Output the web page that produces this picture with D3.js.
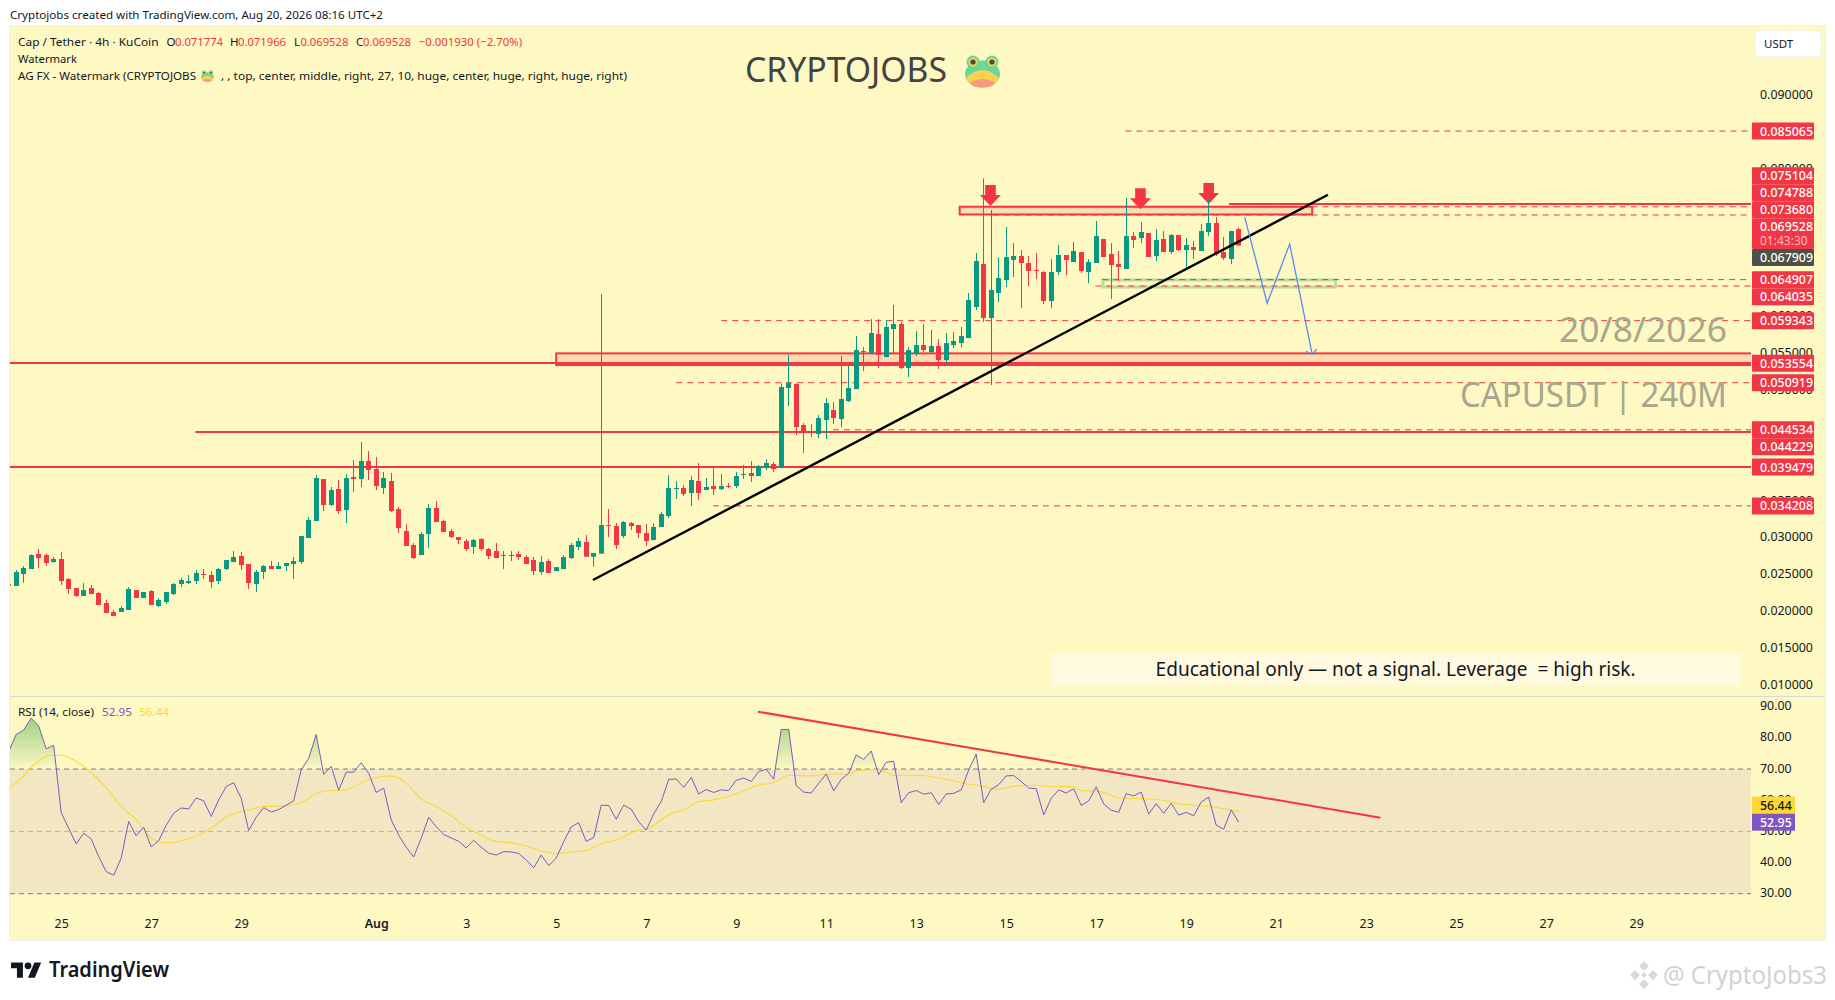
<!DOCTYPE html>
<html>
<head>
<meta charset="utf-8">
<title>CAPUSDT 240M</title>
<script src="https://cdn.jsdelivr.net/npm/d3@7"></script>
<style>
  html, body { margin: 0; padding: 0; background: #fff; }
  svg { display: block; font-family: "Noto Sans", sans-serif; }
</style>
</head>
<body>
<svg id="chart" width="1835" height="1000"></svg>
<script>
// 4h candles, oldest first. Bar 7 is the first candle of Jul 25.
const opens = [
  0.02365,0.02334,0.02496,0.02564,0.02768,0.02754,0.02659,0.02700,0.02429,0.02306,
  0.02198,0.02306,0.02239,0.02103,0.01981,0.01981,0.02008,0.02279,0.02171,0.02266,
  0.02062,0.02116,0.02225,0.02361,0.02374,0.02401,0.02496,0.02483,0.02401,0.02564,
  0.02659,0.02741,0.02632,0.02361,0.02523,0.02605,0.02564,0.02605,0.02632,0.02659,
  0.02985,0.03216,0.03785,0.03433,0.03650,0.03365,0.03813,0.03785,0.04030,0.03921,
  0.03663,0.03758,0.03378,0.03080,0.02890,0.02754,0.03039,0.03392,0.03216,0.03080,
  0.02998,0.02944,0.02863,0.02971,0.02836,0.02808,0.02741,0.02741,0.02768,0.02727,
  0.02686,0.02523,0.02673,0.02537,0.02564,0.02713,0.02863,0.02930,0.02731,0.02772,
  0.03161,0.03147,0.03012,0.03188,0.03161,0.03052,0.02957,0.03134,0.03283,0.03649,
  0.03663,0.03595,0.03758,0.03636,0.03690,0.03649,0.03690,0.03690,0.03839,0.03867,
  0.03826,0.03934,0.03989,0.03934,0.05020,0.05074,0.04518,0.04432,0.04396,0.04586,
  0.04721,0.04599,0.04843,0.05006,0.05522,0.05495,0.05753,0.05440,0.05820,0.05888,
  0.05291,0.05495,0.05603,0.05508,0.05590,0.05400,0.05603,0.05630,0.05698,0.06119,
  0.06703,0.05970,0.06309,0.06485,0.06757,0.06811,0.06716,0.06621,0.06594,0.06200,
  0.06594,0.06825,0.06730,0.06865,0.06594,0.06716,0.07042,0.06838,0.06703,0.06635,
  0.07082,0.07055,0.07123,0.06811,0.07042,0.06865,0.07096,0.06892,0.06933,0.06879,
  0.07137,0.07259,0.06865,0.06770,0.071774
];
const highs = [
  0.02365,0.02551,0.02605,0.02763,0.02836,0.02777,0.02727,0.02795,0.02442,0.02306,
  0.02374,0.02347,0.02252,0.02144,0.02008,0.02062,0.02320,0.02279,0.02252,0.02279,
  0.02171,0.02252,0.02374,0.02442,0.02483,0.02551,0.02564,0.02537,0.02578,0.02686,
  0.02808,0.02795,0.02632,0.02551,0.02618,0.02673,0.02659,0.02646,0.02727,0.03012,
  0.03270,0.03840,0.03785,0.03677,0.03772,0.03853,0.04043,0.04287,0.04165,0.04084,
  0.03880,0.03867,0.03406,0.03175,0.02917,0.03066,0.03446,0.03487,0.03229,0.03107,
  0.02998,0.02971,0.02971,0.02985,0.02849,0.02917,0.02808,0.02808,0.02808,0.02754,
  0.02727,0.02741,0.02700,0.02591,0.02754,0.02917,0.02985,0.03025,0.02781,0.06295,
  0.03378,0.03188,0.03215,0.03202,0.03161,0.03174,0.03188,0.03337,0.03839,0.03758,
  0.03704,0.03826,0.04002,0.03799,0.03948,0.03853,0.03731,0.03880,0.03975,0.04029,
  0.03975,0.04056,0.04016,0.05083,0.05468,0.05088,0.04545,0.04531,0.04653,0.04884,
  0.04830,0.05454,0.05332,0.05725,0.05576,0.05956,0.05956,0.05943,0.06146,0.05915,
  0.05576,0.05793,0.05888,0.05807,0.05685,0.05766,0.05780,0.05848,0.06309,0.06852,
  0.07865,0.07435,0.06793,0.07205,0.06987,0.06892,0.06811,0.06852,0.06608,0.06770,
  0.06960,0.06825,0.07001,0.06865,0.06770,0.07286,0.07042,0.06987,0.06879,0.07598,
  0.07137,0.07272,0.07123,0.07177,0.07150,0.07110,0.07096,0.07055,0.07015,0.07245,
  0.07571,0.07340,0.07069,0.07150,0.071966
];
const lows = [
  0.02338,0.02334,0.02379,0.02564,0.02578,0.02605,0.02650,0.02347,0.02225,0.02184,
  0.02198,0.02225,0.02076,0.01967,0.01926,0.01981,0.02008,0.02171,0.02171,0.02076,
  0.02049,0.02089,0.02211,0.02320,0.02361,0.02361,0.02429,0.02306,0.02361,0.02551,
  0.02659,0.02551,0.02293,0.02252,0.02429,0.02564,0.02564,0.02537,0.02429,0.02632,
  0.02985,0.03216,0.03351,0.03419,0.03311,0.03188,0.03609,0.03677,0.03772,0.03636,
  0.03582,0.03338,0.03053,0.02876,0.02700,0.02754,0.02849,0.03202,0.03066,0.02985,
  0.02903,0.02808,0.02768,0.02808,0.02700,0.02713,0.02564,0.02673,0.02686,0.02632,
  0.02483,0.02483,0.02510,0.02537,0.02564,0.02700,0.02822,0.02731,0.02596,0.02772,
  0.02998,0.02835,0.02984,0.03093,0.02984,0.02876,0.02957,0.03134,0.03256,0.03514,
  0.03554,0.03419,0.03500,0.03636,0.03568,0.03636,0.03663,0.03663,0.03785,0.03744,
  0.03826,0.03907,0.03880,0.03934,0.04776,0.04382,0.04138,0.04355,0.04341,0.04328,
  0.04531,0.04491,0.04830,0.05006,0.05251,0.05495,0.05291,0.05440,0.05495,0.05278,
  0.05169,0.05454,0.05508,0.05495,0.05278,0.05359,0.05563,0.05576,0.05698,0.06078,
  0.05916,0.05061,0.06187,0.06390,0.06526,0.06105,0.06404,0.06499,0.06160,0.06105,
  0.06553,0.06553,0.06730,0.06580,0.06445,0.06716,0.06798,0.06228,0.06472,0.06635,
  0.06920,0.06987,0.06798,0.06743,0.06865,0.06838,0.06879,0.06635,0.06770,0.06879,
  0.07082,0.06811,0.06757,0.06702,0.069528
];
const closes = [
  0.02338,0.02523,0.02578,0.02754,0.02713,0.02646,0.02700,0.02401,0.02293,0.02198,
  0.02279,0.02225,0.02076,0.01967,0.01926,0.02035,0.02293,0.02171,0.02252,0.02076,
  0.02144,0.02252,0.02361,0.02415,0.02401,0.02510,0.02483,0.02388,0.02564,0.02686,
  0.02727,0.02618,0.02374,0.02523,0.02605,0.02564,0.02605,0.02646,0.02673,0.03012,
  0.03229,0.03799,0.03433,0.03636,0.03351,0.03799,0.03785,0.04030,0.03908,0.03690,
  0.03799,0.03351,0.03121,0.02876,0.02713,0.03039,0.03392,0.03202,0.03066,0.02998,
  0.02958,0.02836,0.02958,0.02836,0.02741,0.02713,0.02754,0.02754,0.02727,0.02632,
  0.02537,0.02659,0.02510,0.02591,0.02727,0.02890,0.02944,0.02731,0.02781,0.03161,
  0.03147,0.02889,0.03202,0.03147,0.03052,0.02944,0.03134,0.03310,0.03663,0.03663,
  0.03582,0.03771,0.03595,0.03677,0.03649,0.03690,0.03677,0.03826,0.03853,0.03826,
  0.03961,0.04002,0.03921,0.05033,0.05088,0.04491,0.04423,0.04423,0.04613,0.04816,
  0.04613,0.04871,0.05020,0.05535,0.05508,0.05766,0.05468,0.05848,0.05888,0.05291,
  0.05535,0.05603,0.05535,0.05590,0.05400,0.05630,0.05658,0.05725,0.06214,0.06743,
  0.05970,0.06350,0.06513,0.06798,0.06811,0.06716,0.06608,0.06608,0.06200,0.06594,
  0.06825,0.06757,0.06879,0.06608,0.06730,0.07082,0.06798,0.06689,0.06662,0.07082,
  0.07028,0.07137,0.06798,0.07028,0.06865,0.07096,0.06892,0.06960,0.06892,0.07150,
  0.07259,0.06838,0.06784,0.07150,0.069528
];

// RSI per bar, and its moving average read at the bars listed in maBars
const rsi = [
  75.6,81.1,82.5,86.3,83.8,76.5,77.6,56.0,51.0,46.0,
  49.4,47.6,41.9,37.1,35.9,41.4,53.2,48.6,51.3,45.0,
  47.0,52.0,55.8,57.5,57.2,60.7,59.8,54.8,60.1,64.4,
  65.6,60.6,50.3,54.5,57.6,56.2,57.0,58.4,59.8,69.7,
  73.4,81.1,68.3,70.9,63.2,69.0,69.0,72.0,68.6,62.5,
  63.9,53.7,48.8,44.9,41.8,47.8,54.5,51.5,49.0,47.9,
  46.8,44.7,47.1,44.9,43.0,42.4,43.5,43.4,42.9,40.8,
  38.3,42.4,39.0,41.4,46.7,51.4,52.8,46.8,48.0,58.4,
  58.3,53.9,58.4,57.1,53.1,50.4,55.6,59.5,66.7,66.8,
  64.1,67.3,62.0,63.4,62.5,63.3,63.1,66.4,67.1,66.0,
  69.2,69.9,66.7,82.7,82.7,64.7,62.6,62.3,65.4,68.4,
  63.0,66.7,68.6,74.5,73.1,75.8,68.2,72.2,72.5,59.2,
  62.4,63.1,61.9,62.4,58.6,62.0,62.2,63.3,69.7,74.8,
  59.2,63.5,65.0,67.8,67.9,66.0,63.9,63.7,55.3,60.6,
  63.3,62.3,63.7,58.3,59.8,64.3,58.8,56.8,56.1,62.1,
  61.4,62.6,55.6,58.9,55.8,59.0,55.2,56.1,55.0,59.4,
  61.0,52.0,50.7,56.9,52.95
];
const maBars = [0,2,3,5,6,7,9,11,13,15,17,19,21,23,25,27,29,32,34,37,39,41,43,45,47,49,51,53,55,57,59,61,63,65,67,69,71,73,75,77,79,81,84,85,88,90,92,94,97,100,102,104,107,109,112,113,116,118,121,125,128,129,132,134,137,139,142,143,145,148,153,156,160,164];
const maValues = [63.7,67.8,70.5,74.0,74.4,74.4,72.5,68.8,64.0,58.0,53.7,47.8,46.3,47.0,48.5,51.0,54.7,56.9,58.0,58.2,59.2,62.1,63.1,63.3,65.6,67.3,67.8,65.4,60.4,58.0,55.0,51.3,48.8,46.7,46.4,45.3,43.7,42.9,43.4,43.9,46.0,47.2,50.4,50.7,55.3,56.9,59.5,60.1,62.0,64.9,65.6,68.0,67.8,68.4,68.4,69.4,69.9,68.0,68.0,66.7,65.2,64.9,63.5,64.5,64.8,64.3,64.4,63.0,63.0,60.8,60.3,58.9,58.0,56.44];

// axes, ticks that sit fully under a price tag are left out
const priceTicks = [0.09,0.08,0.06,0.055,0.05,0.035,0.03,0.025,0.02,0.015,0.01];
const rsiTicks = [90, 80, 70, 60, 50, 40, 30];
const dayTicks = [[6,25,'25'],[6,27,'27'],[6,29,'29'],[7,1,'Aug'],[7,3,'3'],[7,5,'5'],[7,7,'7'],[7,9,'9'],[7,11,'11'],[7,13,'13'],[7,15,'15'],[7,17,'17'],[7,19,'19'],[7,21,'21'],[7,23,'23'],[7,25,'25'],[7,27,'27'],[7,29,'29']];

// drawings: [price, first bar]
const solidLevels = [[0.075104,162.7],[0.053554,0],[0.044229,24.9],[0.039479,0]];
const dashedLevels = [[0.085065,148.9],[0.074788,131.2],[0.07368,131.2],[0.064907,145.8],[0.064035,144.9],[0.059343,95],[0.050919,89],[0.044534,109.9],[0.034208,93.9]];
const trendLine = [[77.9,0.02415],[175.9,0.07643]];
const projection = [[164.8,0.0734],[167.8,0.0617],[170.8,0.06974],[173.8,0.05478]];
const arrowTips = [[130.9,0.0749],[150.9,0.07445],[160,0.07517]];
const rsiTrend = [[99.9,88.4],[182.9,54.4]];

// right hand price tags, top to bottom
const priceTags = [0.085065,0.075104,0.074788,0.07368,0.069528,0.067909,0.064907,0.064035,0.059343,0.053554,0.050919,0.044534,0.044229,0.039479,0.034208];

const RED = '#f23645', GREEN = '#089981', BG = '#fef8c3', TEXT = '#131722';
const plot = { left: 10, right: 1751, top: 27, bottom: 696, rsiBottom: 910 };

const svg = d3.select('#chart');
const defs = svg.append('defs');
const barTime = n => new Date(Date.UTC(2026, 6, 25) + (n - 7) * 4 * 3600 * 1000);

const x = d3.scaleUtc()
  .domain([new Date(Date.UTC(2026, 6, 25)), new Date(Date.UTC(2026, 7, 29))])
  .range([61.2, 61.2 + 35 * 45]);
const y = d3.scaleLinear().domain([0.09, 0.01]).range([94.7, 684.3]);
const yRsi = d3.scaleLinear().domain([90, 30]).range([706.7, 893.7]);
const bx = n => x(barTime(n));

// panel
svg.append('rect').attr('x', 9.5).attr('y', 25.5).attr('width', 1816).attr('height', 915)
  .attr('fill', BG).attr('stroke', '#f0f0ee');

defs.append('clipPath').attr('id', 'clip-main').append('rect')
  .attr('x', plot.left).attr('y', plot.top).attr('width', plot.right - plot.left).attr('height', plot.bottom - plot.top);
defs.append('clipPath').attr('id', 'clip-over').append('rect')
  .attr('x', plot.left).attr('y', 690).attr('width', plot.right - plot.left).attr('height', yRsi(70) - 690);

const main = svg.append('g').attr('clip-path', 'url(#clip-main)');

// zones go under everything
function zone(g, b0, b1, p0, p1, fill, stroke, sw) {
  g.append('rect').attr('x', bx(b0)).attr('y', y(p0))
    .attr('width', bx(b1) - bx(b0)).attr('height', y(p1) - y(p0))
    .attr('fill', fill).attr('stroke', stroke).attr('stroke-width', sw);
}
zone(main, 73, 240, 0.0549, 0.05332, '#fddcb0', RED, 2);
zone(main, 126.8, 173.8, 0.0748, 0.07375, '#fddcb0', RED, 2);
zone(main, 145.9, 176.9, 0.06486, 0.0639, 'none', '#bcdc9c', 3);

// level lines
main.selectAll('.dash').data(dashedLevels).join('line').attr('class', 'dash')
  .attr('x1', d => bx(d[1])).attr('x2', plot.right)
  .attr('y1', d => y(d[0])).attr('y2', d => y(d[0]))
  .attr('stroke', RED).attr('stroke-width', 1).attr('stroke-dasharray', '6 5');
main.selectAll('.solid').data(solidLevels).join('line').attr('class', 'solid')
  .attr('x1', d => d[1] === 0 ? plot.left : bx(d[1])).attr('x2', plot.right)
  .attr('y1', d => Math.round(y(d[0]))).attr('y2', d => Math.round(y(d[0])))
  .attr('stroke', RED).attr('stroke-width', 2);

// red arrows sit behind the candles
main.selectAll('.arrow').data(arrowTips).join('path').attr('class', 'arrow')
  .attr('transform', d => `translate(${bx(d[0])},${y(d[1])})`)
  .attr('d', 'M0,0L-10.5,-11L-5.3,-11L-5.3,-21L5.3,-21L5.3,-11L10.5,-11Z')
  .attr('fill', RED);

// candles, snapped to whole pixels so wicks stay sharp
const bars = d3.range(opens.length);
const colorOf = i => closes[i] >= opens[i] ? GREEN : RED;
const snapX = i => Math.floor(bx(i)) + 0.5;
main.selectAll('.wick').data(bars).join('line').attr('class', 'wick')
  .attr('x1', snapX).attr('x2', snapX)
  .attr('y1', i => y(highs[i])).attr('y2', i => y(lows[i]))
  .attr('stroke', colorOf).attr('stroke-width', 1);
main.selectAll('.body').data(bars).join('rect').attr('class', 'body')
  .attr('x', i => snapX(i) - 2.5).attr('width', 5)
  .attr('y', i => y(Math.max(opens[i], closes[i])))
  .attr('height', i => Math.max(1, Math.abs(y(opens[i]) - y(closes[i]))))
  .attr('fill', colorOf);

const priceLine = d3.line().x(d => bx(d[0])).y(d => y(d[1]));
main.append('path').attr('d', priceLine(trendLine)).attr('fill', 'none')
  .attr('stroke', '#000').attr('stroke-width', 2.4);
main.append('path').attr('d', priceLine(projection)).attr('fill', 'none')
  .attr('stroke', '#5b8dee').attr('stroke-width', 1.3);
const tip = projection[projection.length - 1];
main.append('path').attr('transform', `translate(${bx(tip[0])},${y(tip[1])})`)
  .attr('d', 'M-6,-3L0,0L4.5,-5').attr('fill', 'none')
  .attr('stroke', '#5b8dee').attr('stroke-width', 1.3);

// frog emoji, no colour emoji font here so it is drawn
function frog(g, cx, cy, s) {
  const f = g.append('g').attr('transform', `translate(${cx},${cy}) scale(${s})`);
  f.append('ellipse').attr('rx', 17.5).attr('ry', 13.5).attr('cy', 3).attr('fill', '#69d69b');
  f.append('path').attr('d', 'M-16.5,7Q-8,-1 0,-1Q8,-1 16.5,7Q13,16.5 0,16.5Q-13,16.5 -16.5,7Z').attr('fill', '#fbd24e');
  f.append('path').attr('d', 'M-13,12Q0,4 13,12Q9,16.5 0,16.5Q-9,16.5 -13,12Z').attr('fill', '#f99a80');
  [-9.5, 9.5].forEach(ex => {
    f.append('circle').attr('cx', ex).attr('cy', -9).attr('r', 6.5).attr('fill', '#69d69b');
    f.append('circle').attr('cx', ex).attr('cy', -9).attr('r', 4.5).attr('fill', '#f4d24c');
    f.append('circle').attr('cx', ex).attr('cy', -9).attr('r', 2.6).attr('fill', '#4b4b42');
  });
}

// watermarks and notes
function label(g, txt, px, py, size, color, width, anchor) {
  const t = g.append('text').attr('x', px).attr('y', py).attr('font-size', size)
    .attr('fill', color).attr('text-anchor', anchor || 'start').text(txt);
  if (width) t.attr('textLength', width).attr('lengthAdjust', 'spacingAndGlyphs');
  return t;
}
label(svg, 'CRYPTOJOBS', 745, 81.7, 34, '#434343', 202);
frog(svg, 982.5, 71, 1);
label(svg, '20/8/2026', 1559, 341.7, 35, '#a8a68e', 168);
label(svg, 'CAPUSDT | 240M', 1460, 406.7, 35, '#a8a68e', 267);
svg.append('rect').attr('x', 1051.5).attr('y', 653).attr('width', 689).attr('height', 33).attr('fill', '#fff9e0');
label(svg, 'Educational only — not a signal. Leverage  = high risk.', 1155.6, 676, 19, '#131722', 480)
  .attr('xml:space', 'preserve').style('white-space', 'pre');

// header and legend
label(svg, 'Cryptojobs created with TradingView.com, Aug 20, 2026 08:16 UTC+2', 10, 19, 11.5, TEXT, 373);
label(svg, 'Cap / Tether · 4h · KuCoin', 18, 46, 11.5, TEXT, 140.5);
[['O', 166.5, '0.071774', 175], ['H', 230, '0.071966', 238], ['L', 294, '0.069528', 300.4], ['C', 356, '0.069528', 363]].forEach(d => {
  label(svg, d[0], d[1], 46, 11.5, TEXT);
  label(svg, d[2], d[3], 46, 11.5, RED, 48);
});
label(svg, '−0.001930 (−2.70%)', 418.7, 46, 11.5, RED, 103.5);
label(svg, 'Watermark', 18, 63, 11.5, TEXT, 59);
label(svg, 'AG FX - Watermark (CRYPTOJOBS', 18, 80, 11.5, TEXT, 178);
frog(svg, 207.5, 76, 0.36);
label(svg, ', , top, center, middle, right, 27, 10, huge, center, huge, right, huge, right)', 221, 80, 11.5, TEXT, 406);

// RSI pane
svg.append('line').attr('x1', plot.left).attr('x2', 1825).attr('y1', 696.5).attr('y2', 696.5).attr('stroke', '#d6d9e2');
svg.append('rect').attr('x', plot.left).attr('width', plot.right - plot.left)
  .attr('y', yRsi(70)).attr('height', yRsi(30) - yRsi(70)).attr('fill', '#f3e7c3');
[[70, '#787b86'], [50, '#b9b29f'], [30, '#787b86']].forEach(d => {
  svg.append('line').attr('x1', plot.left).attr('x2', plot.right)
    .attr('y1', yRsi(d[0])).attr('y2', yRsi(d[0]))
    .attr('stroke', d[1]).attr('stroke-dasharray', '5 4');
});

const grad = defs.append('linearGradient').attr('id', 'over-fill')
  .attr('gradientUnits', 'userSpaceOnUse')
  .attr('x1', 0).attr('x2', 0).attr('y1', yRsi(88)).attr('y2', yRsi(70));
grad.append('stop').attr('offset', 0).attr('stop-color', '#4caf50').attr('stop-opacity', 0.6);
grad.append('stop').attr('offset', 1).attr('stop-color', '#4caf50').attr('stop-opacity', 0);

const rsiPane = svg.append('g');
rsiPane.append('path')
  .attr('clip-path', 'url(#clip-over)')
  .attr('d', d3.area().x((d, i) => bx(i)).y0(yRsi(70)).y1(d => yRsi(d))(rsi))
  .attr('fill', 'url(#over-fill)');
rsiPane.append('path')
  .attr('d', d3.line().x((d, i) => bx(maBars[i])).y(d => yRsi(d)).curve(d3.curveMonotoneX)(maValues))
  .attr('fill', 'none').attr('stroke', '#fdd835').attr('stroke-width', 1.1);
rsiPane.append('clipPath').attr('id', 'clip-rsi').append('rect')
  .attr('x', plot.left).attr('y', 697).attr('width', plot.right - plot.left).attr('height', 240);
rsiPane.append('path').attr('clip-path', 'url(#clip-rsi)')
  .attr('d', d3.line().x((d, i) => bx(i)).y(d => yRsi(d))(rsi))
  .attr('fill', 'none').attr('stroke', '#7e57c2').attr('stroke-width', 1);
rsiPane.append('path')
  .attr('d', d3.line().x(d => bx(d[0])).y(d => yRsi(d[1]))(rsiTrend))
  .attr('fill', 'none').attr('stroke', RED).attr('stroke-width', 2);

label(svg, 'RSI (14, close)', 18, 716, 11.5, TEXT, 76);
label(svg, '52.95', 102, 716, 11.5, '#7e57c2', 30);
label(svg, '56.44', 139, 716, 11.5, '#fdd835', 30);

// axes, tags get painted over the price ticks afterwards
function styleAxis(g) {
  g.select('.domain').remove();
  g.selectAll('.tick line').remove();
  g.selectAll('text').attr('fill', TEXT).attr('font-size', 12.4)
    .style('font-family', '"Noto Sans", sans-serif');
}
svg.append('g').attr('transform', 'translate(1760,0)')
  .call(d3.axisRight(y).tickValues(priceTicks).tickSize(0).tickPadding(0).tickFormat(d3.format('.6f')))
  .call(styleAxis);
svg.append('g').attr('transform', 'translate(1760,-1)')
  .call(d3.axisRight(yRsi).tickValues(rsiTicks).tickSize(0).tickPadding(0).tickFormat(d3.format('.2f')))
  .call(styleAxis);
svg.append('g').attr('transform', 'translate(0,919)')
  .call(d3.axisBottom(x)
    .tickValues(dayTicks.map(d => new Date(Date.UTC(2026, d[0], d[1]))))
    .tickSize(0).tickPadding(0)
    .tickFormat((d, i) => dayTicks[i][2]))
  .call(styleAxis)
  .selectAll('text').attr('font-weight', (d, i) => dayTicks[i][2] === 'Aug' ? 600 : 400);

// currency button
svg.append('rect').attr('x', 1755).attr('y', 31).attr('width', 66).attr('height', 26).attr('rx', 3)
  .attr('fill', '#fff').attr('stroke', '#f0f3fa');
label(svg, 'USDT', 1764, 48, 11.5, TEXT);

// price tags: current price is pinned, the rest get pushed away from it
const TAG_H = 17, LIVE_H = 30.8;
const pinIdx = priceTags.indexOf(0.067909);
const tagH = p => p === 0.069528 ? LIVE_H : TAG_H;
const tagTop = new Array(priceTags.length);
tagTop[pinIdx] = y(0.067909) - TAG_H / 2;
for (let i = pinIdx + 1; i < priceTags.length; i++) {
  tagTop[i] = Math.max(y(priceTags[i]) - TAG_H / 2, tagTop[i - 1] + TAG_H);
}
for (let i = pinIdx - 1; i >= 0; i--) {
  tagTop[i] = Math.min(y(priceTags[i]) - TAG_H / 2, tagTop[i + 1] - tagH(priceTags[i]));
}
const tags = svg.append('g').selectAll('g').data(priceTags).join('g')
  .attr('transform', (d, i) => `translate(1752,${tagTop[i]})`);
tags.append('rect').attr('width', 62).attr('height', tagH).attr('rx', 1)
  .attr('fill', d => d === 0.067909 ? '#50504a' : RED);
tags.append('text').attr('x', 8).attr('y', 13).attr('font-size', 12.4).attr('font-weight', 500)
  .attr('fill', '#fff').text(d3.format('.6f'));
tags.filter(d => d === 0.069528).append('text').attr('x', 8).attr('y', 27).attr('font-size', 12)
  .attr('fill', '#fbb9bf').text('01:43:30');

// RSI tags
const rsiTagY = yRsi(52.95) - 8.5;
[[56.44, rsiTagY - 17, '#fdd835', TEXT], [52.95, rsiTagY, '#7e57c2', '#fff']].forEach(d => {
  svg.append('rect').attr('x', 1752).attr('y', d[1]).attr('width', 43).attr('height', 17).attr('fill', d[2]);
  svg.append('text').attr('x', 1760).attr('y', d[1] + 13).attr('font-size', 12.4).attr('font-weight', 500)
    .attr('fill', d[3]).text(d3.format('.2f')(d[0]));
});

// footer
const logo = svg.append('g').attr('transform', 'translate(11,959) scale(0.85)').attr('fill', '#131722');
logo.append('path').attr('d', 'M14 22H7V11H0V4h14v18zM28 22h-8l7.5-18h8L28 22z');
logo.append('circle').attr('cx', 20).attr('cy', 8).attr('r', 4);
label(svg, 'TradingView', 49, 977, 21, '#131722', 120).attr('font-weight', 600);

const diamond = svg.append('g').attr('transform', 'translate(1644,975)').attr('fill', '#d9d9d9');
diamond.append('path').attr('d', 'M0,-14L5,-9L0,-4L-5,-9Z M-9,-5L-4,0L-9,5L-14,0Z M9,-5L14,0L9,5L4,0Z M0,4L5,9L0,14L-5,9Z M0,-3L3,0L0,3L-3,0Z');
label(svg, '@ CryptoJobs3', 1663, 984, 25, '#d2d2d2', 164);
</script>
</body>
</html>
